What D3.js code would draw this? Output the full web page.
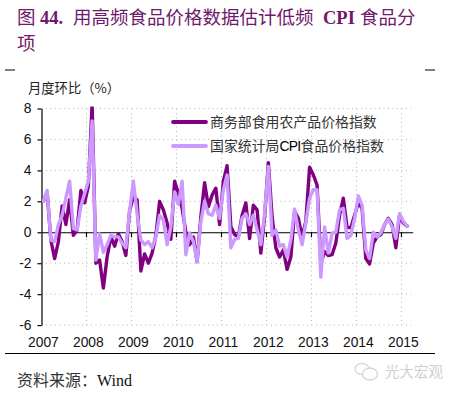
<!DOCTYPE html>
<html>
<head>
<meta charset="utf-8">
<script src="https://cdn.jsdelivr.net/npm/d3@7"></script>
<style>
  html, body { margin: 0; background: #fff; }
  svg { display: block; }
  .cjk { font-family: "Noto Sans CJK SC", sans-serif; }
  .tick text { font-family: "Liberation Sans", Arial, sans-serif; font-size: 13.8px; fill: #111; }
</style>
</head>
<body>
<svg id="chart"></svg>
<script>
const years = [2007, 2008, 2009, 2010, 2011, 2012, 2013, 2014, 2015];
const yTicks = [8, 6, 4, 2, 0, -2, -4, -6];

// month on month, Jan 2007 to Feb 2015
const mofcom = [
  2.0, 2.6, -0.5, -1.7, -0.6, 1.7, 0.5, 2.1, -0.2, 0.15, 2.7, 1.9,
  3.0, 8.3, -2.0, -1.8, -3.6, -1.6, -0.3, -0.9, -0.1, -0.6, -1.5, 1.4,
  2.3, 2.1, -2.5, -1.4, -2.0, -1.35, -0.2, 2.0, 1.45, 0.6, -0.45, 3.3,
  2.5, 1.55, 0, -0.8, -0.3, -1.9, 1.0, 3.2, 1.65, 2.4, 2.85, 0.5,
  3.3, 4.3, 0.35, -0.15, -0.3, 1.1, 1.9, -0.4, 1.75, 1.45, -1.35, 1.0,
  4.5, 1.0, -1.0, -1.6, -1.15, -2.4, -1.6, 1.35, 0.9, -0.3, 0.7, 4.2,
  3.7, 3.05, -2.0, -1.25, -1.5, -1.45, -0.7, 1.1, 2.2, 0.3, 0.3, 1.1,
  1.9, 1.55, -1.7, -2.05, -0.7, -0.3, -0.15, 0.5, 0.9, 0.5, -1.0, 1.1,
  0.6, 0.4,
];
const nbs = [
  2.0, 2.7, -0.5, -0.6, 0.5, 1.1, 2.2, 3.3, 0.25, 0.15, 1.7, 2.5,
  3.3, 7.2, -1.8, -0.1, -1.3, -0.8, -0.2, -0.3, -0.3, -0.7, -1.0, 1.4,
  3.3, 1.2, -0.5, -0.8, -0.6, -1.0, -0.3, 1.1, 0.8, -0.8, 0.35, 2.6,
  1.8, 3.3, -1.45, -0.05, -0.6, -1.9, 0.7, 2.0, 1.2, 1.1, 1.75, 0.9,
  2.75, 3.7, -1.0, -0.45, -0.4, 0.9, 1.2, 0.5, 1.1, 0.15, -0.8, 1.2,
  4.25, -0.2, 0.15, -0.9, -0.8, -1.6, -0.5, 1.5, 0.15, -0.8, 0.6, 2.2,
  2.75, 2.75, -2.9, 0.35, -1.35, -0.05, 0, 1.45, 1.55, -0.4, -0.2, 0.9,
  2.35, 1.75, -1.15, -1.7, 0, -0.3, -0.05, 0.5, 0.85, 0.35, -0.4, 1.2,
  0.7, 0.4,
];

const svgWidth = 457;
const svgHeight = 394;
const darkColor = '#800080';
const lightColor = '#cc99ff';
const titleColor = '#70186c';

const svg = d3.select('#chart')
  .attr('width', svgWidth)
  .attr('height', svgHeight)
  .attr('viewBox', `0 0 ${svgWidth} ${svgHeight}`);

const margin = { top: 108.5, left: 41.5 };
const width = 371.2;
const height = 216.6;
const g = svg.append('g').attr('transform', `translate(${margin.left}, ${margin.top})`);

// one band per month, the last one (Mar 2015) is left empty
const months = [];
years.forEach((yr) => {
  d3.range(1, 13).forEach((m) => {
    if (yr < 2015 || m <= 3) months.push(`${yr}-${String(m).padStart(2, '0')}`);
  });
});

const x = d3.scaleBand().domain(months).range([0, width]).paddingInner(0).paddingOuter(0);
const y = d3.scaleLinear().domain([-6, 8]).range([height, 0]);
const jan = years.map(yr => `${yr}-01`);

// dotted grid
g.append('g')
  .selectAll('line')
  .data(yTicks)
  .join('line')
  .attr('x1', 0)
  .attr('x2', width - 1.5)
  .attr('y1', d => y(d))
  .attr('y2', d => y(d))
  .attr('stroke', '#b5b5b5')
  .attr('stroke-dasharray', '1 3.5');

g.append('g')
  .selectAll('line')
  .data(jan.slice(1))
  .join('line')
  .attr('x1', d => x(d))
  .attr('x2', d => x(d))
  .attr('y1', 0)
  .attr('y2', height)
  .attr('stroke', '#b5b5b5')
  .attr('stroke-dasharray', '1 3.5');

// x axis sits on zero, labels go under the plot
const xAxis = g.append('g')
  .attr('transform', `translate(0,${y(0)})`)
  .call(d3.axisBottom(x).tickValues(jan).tickSize(5).tickSizeOuter(0).tickFormat(d => d.slice(0, 4)));
xAxis.select('.domain').attr('stroke', '#000').attr('stroke-width', 1.2);
xAxis.selectAll('.tick line').attr('x1', -x.bandwidth() / 2).attr('x2', -x.bandwidth() / 2).attr('stroke-width', 1.2);
xAxis.selectAll('.tick text').attr('y', 114.5).attr('dy', 0);
xAxis.selectAll('.tick').filter(d => d === '2007-01').select('line').remove();

const yAxis = g.append('g')
  .call(d3.axisLeft(y).tickValues(yTicks).tickSize(4).tickSizeOuter(0).tickPadding(6).tickFormat(d => String(d)));
yAxis.select('.domain').attr('stroke-width', 1.2);
yAxis.selectAll('.tick line').attr('stroke-width', 1.2);

// lines, the spike in 2008 runs off the top
g.append('clipPath').attr('id', 'plot-clip')
  .append('rect')
  .attr('x', 0)
  .attr('y', -2)
  .attr('width', width)
  .attr('height', height + 2);

const line = d3.line()
  .x((d, i) => x(months[i]) + x.bandwidth() / 2)
  .y(d => y(d));

function drawLine(data, color) {
  g.append('path')
    .datum(data)
    .attr('fill', 'none')
    .attr('stroke', color)
    .attr('stroke-width', 3.4)
    .attr('stroke-linejoin', 'round')
    .attr('stroke-linecap', 'round')
    .attr('clip-path', 'url(#plot-clip)')
    .attr('d', line);
}
drawLine(mofcom, darkColor);
drawLine(nbs, lightColor);

// legend
[darkColor, lightColor].forEach((c, i) => {
  const ly = 122 + i * 24;
  svg.append('line')
    .attr('x1', 173).attr('x2', 206)
    .attr('y1', ly).attr('y2', ly)
    .attr('stroke', c)
    .attr('stroke-width', 3.8)
    .attr('stroke-linecap', 'round');
});

const legendOne = svg.append('text')
  .attr('class', 'cjk')
  .attr('x', 210)
  .attr('y', 127)
  .attr('font-size', 13.9)
  .attr('fill', '#333')
  .text('商务部食用农产品价格指数');

const legendTwo = svg.append('text')
  .attr('class', 'cjk')
  .attr('x', 210)
  .attr('y', 151)
  .attr('font-size', 13.9)
  .attr('fill', '#333');
legendTwo.append('tspan').text('国家统计局');
legendTwo.append('tspan')
  .attr('font-family', '"Liberation Sans", sans-serif')
  .attr('letter-spacing', -0.7)
  .attr('fill', '#000')
  .text('CPI');
legendTwo.append('tspan').text('食品价格指数');

svg.append('text')
  .attr('class', 'cjk')
  .attr('x', 28)
  .attr('y', 93)
  .attr('font-size', 13.3)
  .attr('fill', '#222')
  .text('月度环比（%）');

// title, mixed fonts so each run gets its own start
function titlePart(txt, xPos, yPos, latin) {
  svg.append('text')
    .attr('x', xPos)
    .attr('y', yPos)
    .attr('font-size', 18.5)
    .attr('fill', titleColor)
    .attr('font-family', latin ? '"Liberation Serif", serif' : '"Noto Sans CJK SC", sans-serif')
    .attr('font-weight', latin ? 'bold' : 'normal')
    .text(txt);
}
titlePart('图', 17, 24, false);
titlePart('44.', 40, 24, true);
titlePart('用高频食品价格数据估计低频', 73, 24, false);
titlePart('CPI', 323, 24, true);
titlePart('食品分', 360, 24, false);
titlePart('项', 17, 49.5, false);

// rules around the figure
[[5, 15, 70], [425, 435, 70], [5, 435, 353.5]].forEach((r) => {
  svg.append('line')
    .attr('x1', r[0]).attr('x2', r[1])
    .attr('y1', r[2]).attr('y2', r[2])
    .attr('stroke', '#000')
    .attr('stroke-width', 1);
});

// source
const source = svg.append('text')
  .attr('x', 17)
  .attr('y', 385.5)
  .attr('font-size', 16)
  .attr('fill', '#333');
source.append('tspan').attr('font-family', '"Noto Sans CJK SC", sans-serif').text('资料来源：');
source.append('tspan').attr('font-family', '"Liberation Serif", serif').attr('fill', '#111').text('Wind');

// watermark
const mark = svg.append('g').attr('fill', 'none').attr('stroke', '#d6d6d6').attr('stroke-width', 1.3);
mark.append('ellipse').attr('cx', 362).attr('cy', 369).attr('rx', 7).attr('ry', 5.5);
mark.append('ellipse').attr('cx', 370).attr('cy', 374).attr('rx', 7.5).attr('ry', 6).attr('fill', '#fff');
svg.append('text')
  .attr('class', 'cjk')
  .attr('x', 385)
  .attr('y', 377)
  .attr('font-size', 14.5)
  .attr('fill', '#cfcfcf')
  .text('光大宏观');
</script>
</body>
</html>
